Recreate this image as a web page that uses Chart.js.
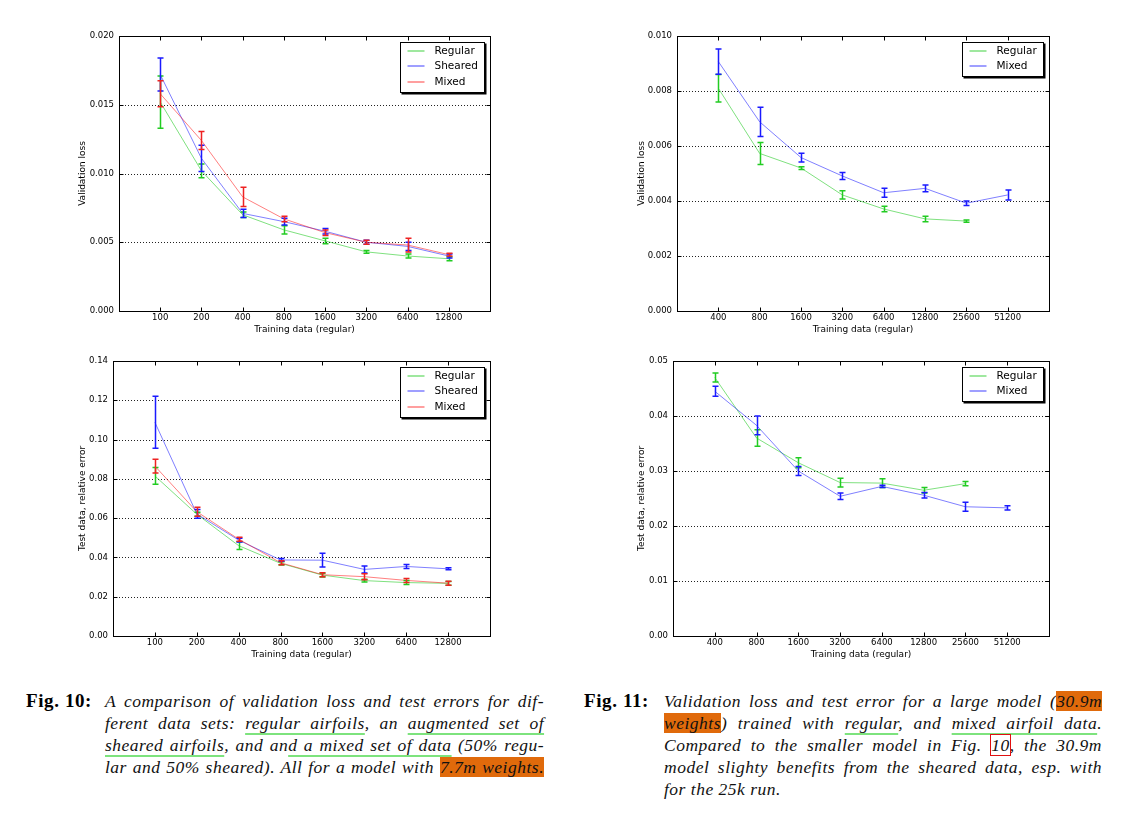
<!DOCTYPE html>
<html>
<head>
<meta charset="utf-8">
<script src="https://cdn.jsdelivr.net/npm/chart.js@4.4.1/dist/chart.umd.min.js"></script>
<style>
  body { margin: 0; background: #fff; width: 1138px; height: 813px; position: relative; overflow: hidden; }
  canvas { position: absolute; }
  .fig { position: absolute; font-family: "Liberation Serif", serif; font-weight: bold; font-size: 19px; letter-spacing: 0.6px; line-height: 22px; color: #000; }
  .ln { position: absolute; font-family: "Liberation Serif", serif; font-style: italic; font-size: 17.5px; letter-spacing: 0.5px; line-height: 22px; white-space: nowrap; color: #111; }
  .ln u { text-decoration: underline; text-decoration-color: #7de37d; text-decoration-thickness: 2px; text-underline-offset: 4px; }
  .hl { background: #e06a0b; }
  .box { outline: 1.5px solid #e01010; outline-offset: 0px; }
</style>
</head>
<body>
<canvas id="vl10"></canvas>
<canvas id="vl11"></canvas>
<canvas id="te10"></canvas>
<canvas id="te11"></canvas>

<div class="fig" style="left:26px;top:690px">Fig. 10:</div>
<div class="ln" data-w="439" style="left:105px;top:690px">A comparison of validation loss and test errors for dif-</div>
<div class="ln" data-w="439" style="left:105px;top:712px">ferent data sets: <u>regular airfoils</u>, an <u>augmented set of</u></div>
<div class="ln" data-w="439" style="left:105px;top:734px"><u>sheared airfoils</u>, and an<u>d a mixed set of data</u> (50% regu-</div>
<div class="ln" data-w="439" style="left:105px;top:756px">lar and 50% sheared). All for a model with <span class="hl">7.7m weights.</span></div>

<div class="fig" style="left:584px;top:690px">Fig. 11:</div>
<div class="ln" data-w="438" style="left:664px;top:690px">Validation loss and test error for a large model (<span class="hl">30.9m</span></div>
<div class="ln" data-w="438" style="left:664px;top:712px"><span class="hl">weights</span>) trained with <u>regular</u>, and <u>mixed airfoil data</u>.</div>
<div class="ln" data-w="438" style="left:664px;top:734px">Compared to the smaller model in Fig. <span class="box">10</span>, the 30.9m</div>
<div class="ln" data-w="438" style="left:664px;top:756px">model slighty benefits from the sheared data, esp. with</div>
<div class="ln" style="left:664px;top:778px">for the 25k run.</div>

<script>
// x categories (training set sizes)
const fig10Sizes = ['100', '200', '400', '800', '1600', '3200', '6400', '12800'];
const fig11Sizes = ['400', '800', '1600', '3200', '6400', '12800', '25600', '51200'];

// Fig. 10, validation loss (7.7m model)
const vl10Regular = [0.0152, 0.0102, 0.0070, 0.0059, 0.0051, 0.0043, 0.0040, 0.0038];
const vl10RegularErr = [0.0019, 0.0005, 0.0002, 0.0003, 0.0002, 0.0001, 0.00015, 0.00015];
const vl10Sheared = [0.0172, 0.0111, 0.0071, 0.0065, 0.0058, 0.0050, 0.0047, 0.0040];
const vl10ShearedErr = [0.0012, 0.00095, 0.0003, 0.00025, 0.0002, 0.00015, 0.0003, 0.00015];
const vl10Mixed = [0.0158, 0.0124, 0.0083, 0.0067, 0.0057, 0.0050, 0.0048, 0.0041];
const vl10MixedErr = [0.00095, 0.00065, 0.0007, 0.0002, 0.0002, 0.00015, 0.0005, 0.0001];

// Fig. 11, validation loss (30.9m model)
const vl11Regular = [0.0081, 0.00573, 0.0052, 0.00422, 0.00371, 0.00335, 0.00327];
const vl11RegularErr = [0.0005, 0.0004, 0.00005, 0.00015, 0.0001, 0.0001, 0.00004];
const vl11Mixed = [0.00907, 0.00688, 0.00558, 0.00491, 0.0043, 0.00446, 0.00392, 0.00422];
const vl11MixedErr = [0.00046, 0.00053, 0.00016, 0.00013, 0.00016, 0.00012, 0.00008, 0.00018];

// Fig. 10, test error
const te10Regular = [0.0815, 0.0620, 0.0460, 0.0370, 0.0310, 0.0282, 0.0272, 0.0268];
const te10RegularErr = [0.0043, 0.0010, 0.0020, 0.0008, 0.0010, 0.0007, 0.0010, 0.0010];
const te10Sheared = [0.1088, 0.0622, 0.0488, 0.0387, 0.0386, 0.0339, 0.0354, 0.0342];
const te10ShearedErr = [0.0132, 0.0022, 0.0010, 0.0007, 0.0035, 0.0018, 0.0010, 0.0005];
const te10Mixed = [0.0865, 0.0633, 0.0493, 0.0373, 0.0312, 0.0302, 0.0283, 0.0269];
const te10MixedErr = [0.0035, 0.0023, 0.0010, 0.0010, 0.0010, 0.0015, 0.0010, 0.0010];

// Fig. 11, test error
const te11Regular = [0.0470, 0.0360, 0.0315, 0.0279, 0.0278, 0.0265, 0.0277];
const te11RegularErr = [0.0008, 0.0015, 0.0009, 0.0008, 0.0008, 0.0005, 0.0004];
const te11Mixed = [0.0445, 0.0383, 0.0300, 0.0254, 0.0272, 0.0256, 0.0235, 0.0233];
const te11MixedErr = [0.0009, 0.0017, 0.0008, 0.0006, 0.0002, 0.0005, 0.0008, 0.0004];

const FONT = '"DejaVu Sans", sans-serif';
const GREEN = { line: 'rgba(0,195,0,0.5)', bar: '#22cc22' };
const BLUE = { line: 'rgba(0,0,255,0.5)', bar: '#1a1aff' };
const RED = { line: 'rgba(255,0,0,0.5)', bar: '#ee2222' };

function series(label, values, err, col, order) {
    return {
        label: label,
        data: values.map((v, i) => ({ x: i, y: v })),
        err: err,
        barColor: col.bar,
        borderColor: col.line,
        borderWidth: 1,
        pointRadius: 0,
        tension: 0,
        order: order
    };
}

// dotted grid, error bars, frame with inward ticks, boxed legend
const plotDecor = {
    id: 'plotDecor',
    beforeDatasetsDraw(chart) {
        const { ctx, chartArea: a, scales: { y } } = chart;
        ctx.save();
        ctx.strokeStyle = '#222';
        ctx.lineWidth = 1;
        ctx.setLineDash([1, 2]);
        y.ticks.forEach(t => {
            const py = Math.round(y.getPixelForValue(t.value)) + 0.5;
            if (py <= a.top + 1 || py >= a.bottom - 1) return;
            ctx.beginPath();
            ctx.moveTo(a.left, py);
            ctx.lineTo(a.right, py);
            ctx.stroke();
        });
        ctx.restore();
    },
    afterDatasetsDraw(chart) {
        const { ctx, scales: { x, y } } = chart;
        ctx.save();
        ctx.lineWidth = 1.5;
        chart.data.datasets.forEach(ds => {
            ctx.strokeStyle = ds.barColor;
            ds.data.forEach((p, i) => {
                const px = Math.round(x.getPixelForValue(p.x)) + 0.5;
                const hi = y.getPixelForValue(p.y + ds.err[i]);
                const lo = y.getPixelForValue(p.y - ds.err[i]);
                ctx.beginPath();
                ctx.moveTo(px, hi); ctx.lineTo(px, lo);
                ctx.moveTo(px - 3, hi); ctx.lineTo(px + 3, hi);
                ctx.moveTo(px - 3, lo); ctx.lineTo(px + 3, lo);
                ctx.stroke();
            });
        });
        ctx.restore();
    },
    afterDraw(chart) {
        const { ctx, chartArea: a, scales: { x, y } } = chart;
        const L = Math.round(a.left) + 0.5, R = Math.round(a.right) + 0.5;
        const T = Math.round(a.top) + 0.5, B = Math.round(a.bottom) + 0.5;
        ctx.save();
        ctx.strokeStyle = '#000';
        ctx.lineWidth = 1;
        ctx.strokeRect(L, T, R - L, B - T);
        ctx.beginPath();
        x.ticks.forEach(t => {
            const px = Math.round(x.getPixelForValue(t.value)) + 0.5;
            ctx.moveTo(px, B); ctx.lineTo(px, B - 4);
            ctx.moveTo(px, T); ctx.lineTo(px, T + 4);
        });
        y.ticks.forEach(t => {
            const py = Math.round(y.getPixelForValue(t.value)) + 0.5;
            ctx.moveTo(L, py); ctx.lineTo(L + 4, py);
            ctx.moveTo(R, py); ctx.lineTo(R - 4, py);
        });
        ctx.stroke();

        // legend
        const sets = chart.data.datasets;
        ctx.font = '10.5px ' + FONT;
        const tw = Math.max(...sets.map(d => ctx.measureText(d.label).width));
        const w = Math.round(tw + 41), h = Math.round(sets.length * 15.5 + 3);
        const x0 = Math.round(a.right - 6 - w) + 0.5, y0 = Math.round(a.top + 6) + 0.5;
        ctx.fillStyle = '#000';
        ctx.fillRect(x0 + 1, y0 + 1, w + 1, h + 1);
        ctx.fillStyle = '#fff';
        ctx.fillRect(x0, y0, w, h);
        ctx.strokeRect(x0, y0, w, h);
        sets.forEach((d, i) => {
            const yy = Math.round(y0 + 8 + i * 15.5);
            ctx.strokeStyle = d.borderColor;
            ctx.lineWidth = 1.5;
            ctx.beginPath();
            ctx.moveTo(x0 + 7, yy); ctx.lineTo(x0 + 24, yy);
            ctx.stroke();
            ctx.fillStyle = '#000';
            ctx.textBaseline = 'middle';
            ctx.fillText(d.label, x0 + 34, yy + 0.5);
        });
        ctx.restore();
    }
};

function makeChart(id, box, sizes, datasets, yMax, yStep, digits, yTitle) {
    const canvas = document.getElementById(id);
    canvas.width = box.r - box.l + box.yw + 12;
    canvas.height = box.b - box.t + 12 + 24;
    canvas.style.left = (box.l - box.yw) + 'px';
    canvas.style.top = (box.t - 12) + 'px';
    return new Chart(canvas, {
        type: 'line',
        data: { datasets: datasets },
        plugins: [plotDecor],
        options: {
            responsive: false,
            animation: false,
            layout: { padding: { top: 12, right: 12, left: 0, bottom: 0 } },
            plugins: { legend: { display: false }, tooltip: { enabled: false } },
            scales: {
                x: {
                    type: 'linear', min: -1, max: 8,
                    grid: { display: false, drawTicks: false },
                    border: { display: false },
                    afterBuildTicks: s => { s.ticks = sizes.map((_, i) => ({ value: i })); },
                    afterFit: s => { s.height = 24; },
                    ticks: { callback: v => sizes[v], font: { family: FONT, size: 8.5 }, color: '#000', padding: 2, maxRotation: 0, autoSkip: false },
                    title: { display: true, text: 'Training data (regular)', font: { family: FONT, size: 9 }, color: '#000', padding: 0 }
                },
                y: {
                    min: 0, max: yMax,
                    grid: { display: false, drawTicks: false },
                    border: { display: false },
                    afterFit: s => { s.width = box.yw; },
                    ticks: { stepSize: yStep, callback: v => v.toFixed(digits), font: { family: FONT, size: 8.5 }, color: '#000', padding: 5 },
                    title: { display: true, text: yTitle, font: { family: FONT, size: 9 }, color: '#000', padding: 0 }
                }
            }
        }
    });
}

const layout = {
    vl10: { l: 119, r: 490, t: 36, b: 311, yw: 42 },
    vl11: { l: 677, r: 1049, t: 36, b: 311, yw: 41 },
    te10: { l: 113, r: 490, t: 361, b: 636, yw: 36 },
    te11: { l: 673, r: 1049, t: 361, b: 636, yw: 37 }
};

makeChart('vl10', layout.vl10, fig10Sizes, [
    series('Regular', vl10Regular, vl10RegularErr, GREEN, 2),
    series('Sheared', vl10Sheared, vl10ShearedErr, BLUE, 1),
    series('Mixed', vl10Mixed, vl10MixedErr, RED, 0)
], 0.02, 0.005, 3, 'Validation loss');

makeChart('vl11', layout.vl11, fig11Sizes, [
    series('Regular', vl11Regular, vl11RegularErr, GREEN, 1),
    series('Mixed', vl11Mixed, vl11MixedErr, BLUE, 0)
], 0.01, 0.002, 3, 'Validation loss');

makeChart('te10', layout.te10, fig10Sizes, [
    series('Regular', te10Regular, te10RegularErr, GREEN, 2),
    series('Sheared', te10Sheared, te10ShearedErr, BLUE, 1),
    series('Mixed', te10Mixed, te10MixedErr, RED, 0)
], 0.14, 0.02, 2, 'Test data, relative error');

makeChart('te11', layout.te11, fig11Sizes, [
    series('Regular', te11Regular, te11RegularErr, GREEN, 1),
    series('Mixed', te11Mixed, te11MixedErr, BLUE, 0)
], 0.05, 0.01, 2, 'Test data, relative error');

// stretch caption lines to their justified width
document.querySelectorAll('.ln[data-w]').forEach(el => {
    const target = +el.dataset.w;
    const spaces = (el.textContent.match(/ /g) || []).length;
    const natural = el.getBoundingClientRect().width;
    if (spaces) el.style.wordSpacing = ((target - natural) / spaces).toFixed(2) + 'px';
});
</script>
</body>
</html>
